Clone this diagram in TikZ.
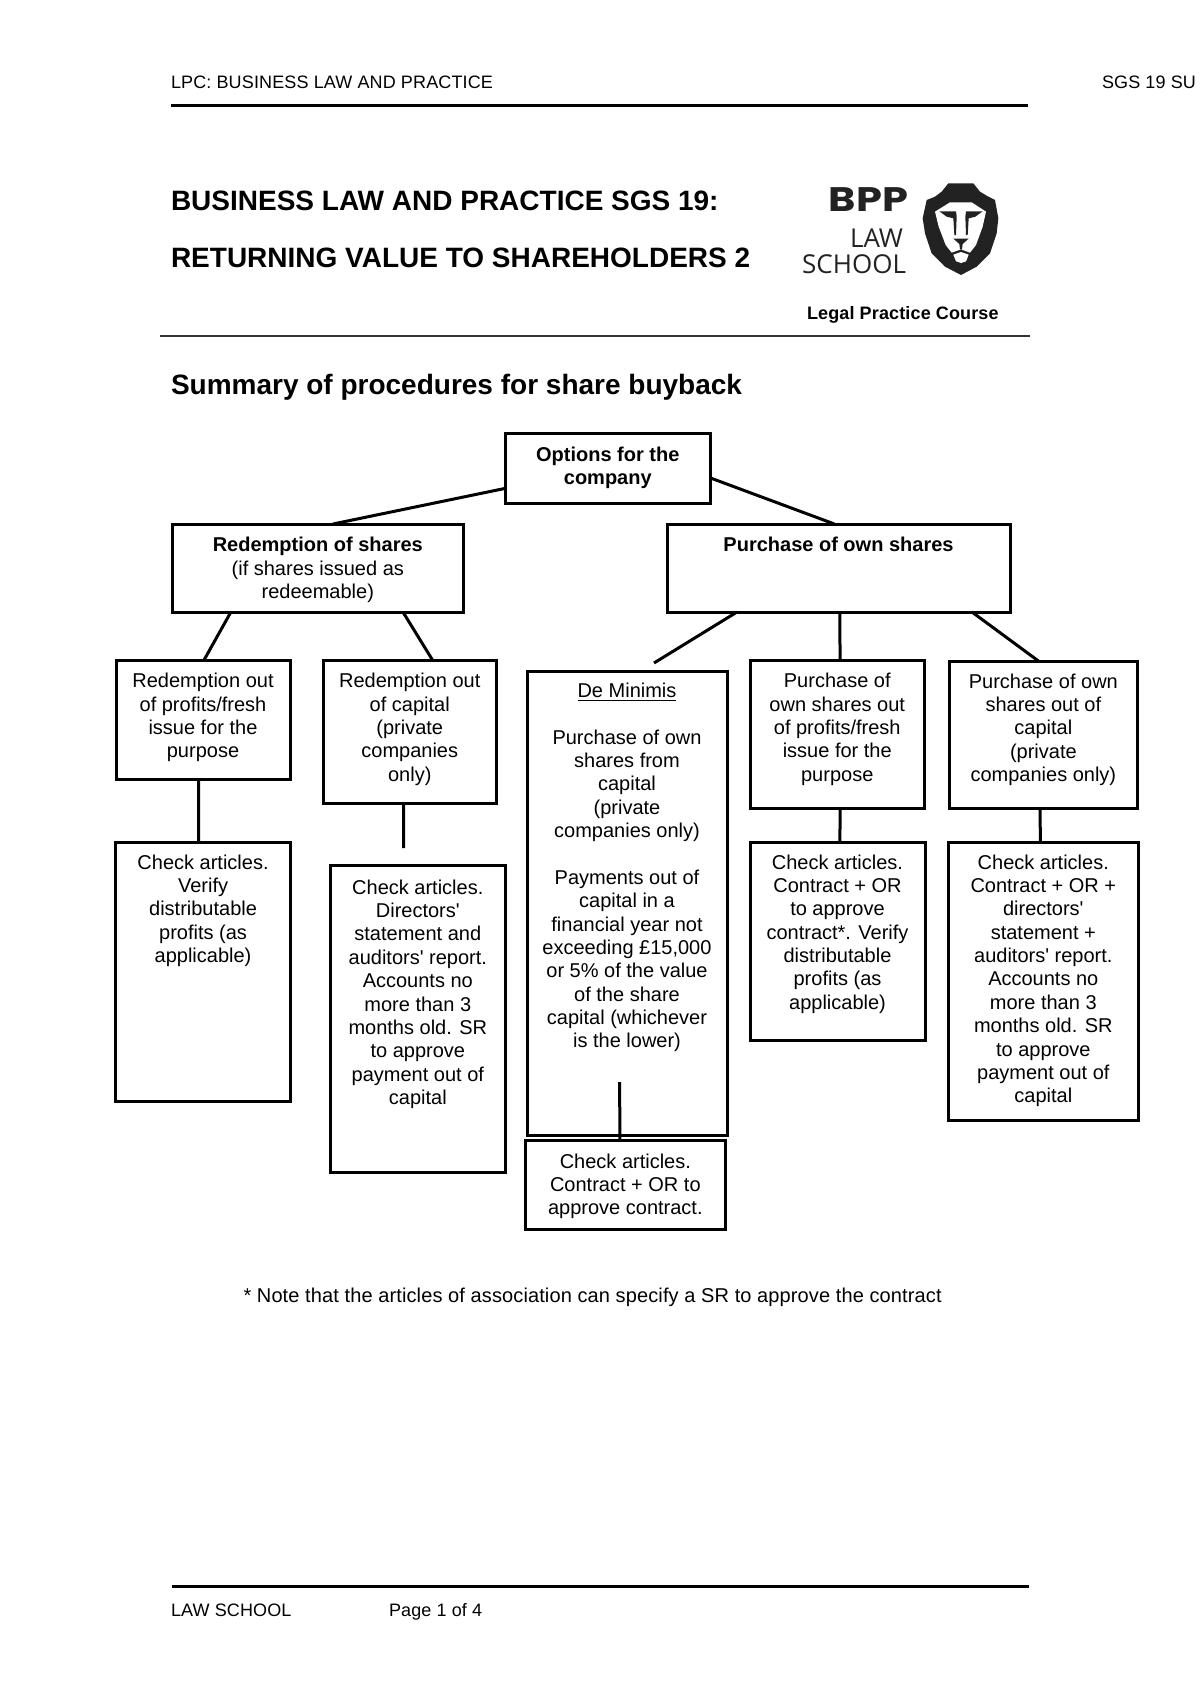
\documentclass[tikz,border=0pt]{standalone}
\usepackage{fontspec}
\setmainfont{Liberation Sans}[Ligatures=TeXOff]
\newfontfamily\logofont{Open Sans}
\newfontfamily\bppfont{Poppins}[FakeStretch=1.22]
\usetikzlibrary{calc}
\definecolor{logodark}{HTML}{222222}
\tikzset{
  boxnode/.style={draw=black,line width=1.5pt,inner sep=0pt,outer sep=0pt,anchor=north west,fill=white},
  link/.style={line width=1.5pt,draw=black},
  label/.style={inner sep=0pt,outer sep=0pt,anchor=base west},
  hrule/.style={draw=black,line width=1.5pt},
  small/.style={font=\addfontfeature{LetterSpace=0.8}\fontsize{9pt}{11pt}\selectfont},
  heading/.style={font=\fontsize{14pt}{16pt}\selectfont\bfseries},
}
% name, x1, y1, x2, y2, pad above first baseline, text
\newcommand\flowbox[7]{%
  \pgfmathsetlengthmacro\bw{(#4-#2)*0.5pt}%
  \pgfmathsetlengthmacro\bh{(#5-#3)*0.5pt}%
  \node[boxnode] (#1) at (#2,#3) {\parbox[t][\bh][t]{\bw}{\centering\fontsize{10pt}{11.68pt}\selectfont\vspace*{#6pt}#7\par}};%
}
\begin{document}
\begin{tikzpicture}[x=0.5pt,y=-0.5pt]
\useasboundingbox (0,0) rectangle (1200,1696);
\fill[white] (0,0) rectangle (1200,1696);

% page furniture
\node[label,small] (hdrL) at (171,89) {LPC: BUSINESS LAW AND PRACTICE};
\node[label,small] (hdrR) at (1102,89) {SGS 19 SU};
\coordinate (r1a) at (171,106); \coordinate (r1b) at (1028,106);
\draw[hrule] (r1a) -- (r1b);
\node[label,heading] (title1) at (171,211) {BUSINESS LAW AND PRACTICE SGS 19:};
\node[label,heading] (title2) at (171,267) {RETURNING VALUE TO SHAREHOLDERS 2};
\node[label,font=\addfontfeature{LetterSpace=0.8}\fontsize{9pt}{11pt}\selectfont\bfseries] (lpc) at (807,319) {Legal Practice Course};
\coordinate (r2a) at (160,336); \coordinate (r2b) at (1030,336);
\draw[draw=black!80,line width=0.8pt] (r2a) -- (r2b);
\node[label,heading] (summary) at (171,394.5) {Summary of procedures for share buyback};

% logo
\node[inner sep=0pt,outer sep=0pt,anchor=base east,text=logodark,font=\bppfont\fontsize{17pt}{19pt}\selectfont\bfseries] (bpp) at (908,212) {BPP};
\node[inner sep=0pt,outer sep=0pt,anchor=base east,text=logodark,font=\logofont\fontsize{13pt}{15pt}\selectfont] (law) at (903,248) {LAW};
\node[inner sep=0pt,outer sep=0pt,anchor=base east,text=logodark,font=\logofont\fontsize{13pt}{15pt}\selectfont] (school) at (906,273) {SCHOOL};
\begin{scope}[shift={(900,170)},x=0.16667pt,y=-0.16667pt]
  \fill[logodark] (145,40) -- (220,40) -- (240,65) -- (265,80) -- (285,90) -- (295,145) -- (290,190) -- (270,250) -- (230,290) -- (183,315) -- (135,290) -- (95,250) -- (75,190) -- (68,145) -- (80,90) -- (105,80) -- (125,65) -- cycle;
  % face
  \fill[white] (105,125) -- (150,97) -- (215,97) -- (258,125) -- (248,170) -- (228,225) -- (210,248) -- (183,238) -- (155,248) -- (137,225) -- (116,170) -- cycle;
  % brows and muzzle lines
  \fill[logodark] (118,124) -- (168,124) -- (170,140) -- (168,195) -- (163,195) -- (160,145) -- (140,140) -- cycle;
  \fill[logodark] (248,124) -- (198,124) -- (196,140) -- (198,195) -- (203,195) -- (206,145) -- (226,140) -- cycle;
  % nose
  \fill[logodark] (160,206) -- (206,206) -- (188,222) -- (186,238) -- (180,238) -- (178,222) -- cycle;
  % chin
  \fill[white] (160,254) -- (183,246) -- (206,254) -- (198,274) -- (183,279) -- (168,274) -- cycle;
\end{scope}

% flow boxes
\flowbox{opt}{505.6}{433}{710}{503}{7}{\textbf{Options for the\\company}}
\flowbox{red}{172}{524}{463.6}{612}{6.6}{\textbf{Redemption of shares}\\(if shares issued as\\redeemable)}
\flowbox{pur}{667}{524}{1010}{612}{6.6}{\textbf{Purchase of own shares}}
\flowbox{rone}{116}{660}{290}{779}{6.7}{Redemption out\\of profits/fresh\\issue for the\\purpose}
\flowbox{rtwo}{323}{660}{496.5}{803}{6.7}{Redemption out\\of capital\\(private\\companies\\only)}
\flowbox{dm}{527}{671.7}{727}{1135}{5.6}{\underline{De Minimis}\\[11.68pt]Purchase of own\\shares from\\capital\\(private\\companies only)\\[11.68pt]Payments out of\\capital in a\\financial year not\\exceeding £15,000\\or 5\% of the value\\of the share\\capital (whichever\\is the lower)}
\flowbox{pone}{750}{660}{924.5}{808}{6.7}{Purchase of\\own shares out\\of profits/fresh\\issue for the\\purpose}
\flowbox{ptwo}{949}{661}{1137.7}{808}{6.3}{Purchase of own\\shares out of\\capital\\(private\\companies only)}
\flowbox{cone}{115.5}{842.7}{290.6}{1101.7}{6}{Check articles.\\Verify\\distributable\\profits (as\\applicable)}
\flowbox{ctwo}{330.6}{865.7}{505}{1172}{7}{Check articles.\\Directors'\\statement and\\auditors' report.\\Accounts no\\more than 3\\months old. SR\\to approve\\payment out of\\capital}
\flowbox{cthree}{525}{1140.7}{725.7}{1229}{6.4}{Check articles.\\Contract + OR to\\approve contract.}
\flowbox{cfour}{750}{842.7}{925}{1040}{6}{Check articles.\\Contract + OR\\to approve\\contract*. Verify\\distributable\\profits (as\\applicable)}
\flowbox{cfive}{948.6}{842.7}{1138}{1120}{6}{Check articles.\\Contract + OR +\\directors'\\statement +\\auditors' report.\\Accounts no\\more than 3\\months old. SR\\to approve\\payment out of\\capital}

% free ends of connectors
\coordinate (dmfree) at (654,663);
\coordinate (ctwofree) at (403.5,848);
\coordinate (dminner) at (619.6,1082);

% connectors
\draw[link] ($(opt.south west)!0.21!(opt.north west)$) -- ($(red.north west)!0.552!(red.north east)$);
\draw[link] ($(opt.north east)!0.64!(opt.south east)$) -- ($(pur.north west)!0.488!(pur.north east)$);
\draw[link] ($(red.south west)!0.202!(red.south east)$) -- ($(rone.north west)!0.506!(rone.north east)$);
\draw[link] ($(red.south west)!0.792!(red.south east)$) -- ($(rtwo.north west)!0.631!(rtwo.north east)$);
\draw[link] ($(pur.south west)!0.204!(pur.south east)$) -- (dmfree);
\draw[link] ($(pur.south west)!0.504!(pur.south east)$) -- ($(pone.north west)!0.516!(pone.north east)$);
\draw[link] ($(pur.south west)!0.889!(pur.south east)$) -- ($(ptwo.north west)!0.474!(ptwo.north east)$);
\draw[link] ($(rone.south west)!0.475!(rone.south east)$) -- ($(cone.north west)!0.475!(cone.north east)$);
\draw[link] ($(rtwo.south west)!0.464!(rtwo.south east)$) -- (ctwofree);
\draw[link] (dminner) -- ($(cthree.north west)!0.473!(cthree.north east)$);
\draw[link] ($(pone.south west)!0.516!(pone.south east)$) -- ($(cfour.north west)!0.514!(cfour.north east)$);
\draw[link] ($(ptwo.south west)!0.482!(ptwo.south east)$) -- ($(cfive.north west)!0.485!(cfive.north east)$);

% note and footer
\node[label,font=\addfontfeature{LetterSpace=0.6}\fontsize{10pt}{12pt}\selectfont] (note) at (243.5,1302) {* Note that the articles of association can specify a SR to approve the contract};
\coordinate (r3a) at (171.5,1586); \coordinate (r3b) at (1029,1586);
\draw[hrule] (r3a) -- (r3b);
\node[label,small] (ftL) at (171,1616) {LAW SCHOOL};
\node[label,small] (ftR) at (389,1616) {Page 1 of 4};
\end{tikzpicture}
\end{document}
